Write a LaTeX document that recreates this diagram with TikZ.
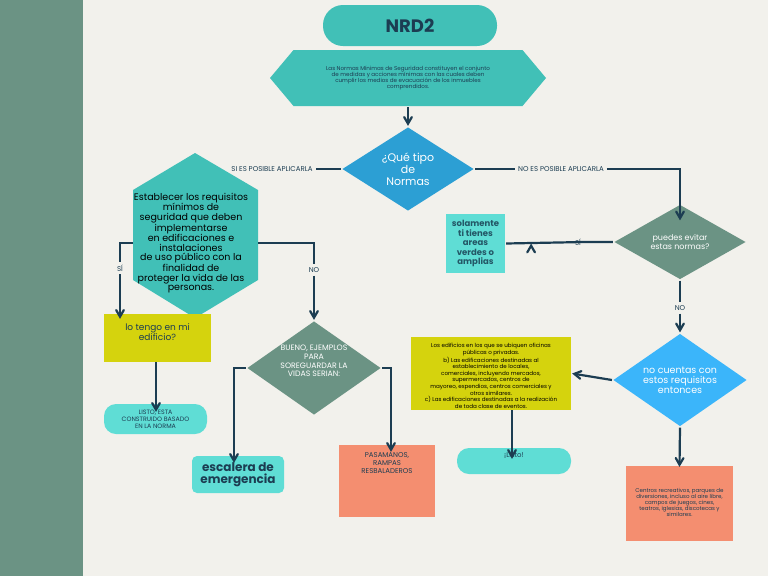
\documentclass[tikz,border=0pt]{standalone}
\usepackage{fontspec}
\setmainfont{Poppins}
\usetikzlibrary{shapes.geometric,shapes.symbols,arrows}
\definecolor{ink}{HTML}{1C3D52}
\definecolor{teal}{HTML}{41C0B7}
\definecolor{aqua}{HTML}{5FDDD5}
\definecolor{sage}{HTML}{6B9384}
\definecolor{sky}{HTML}{2C9FD4}
\definecolor{azure}{HTML}{3BB5FA}
\definecolor{mustard}{HTML}{D5D30D}
\definecolor{salmon}{HTML}{F48E70}
\definecolor{paper}{HTML}{F2F1EC}
\newcommand{\fs}[2]{\fontsize{#1}{#2}\selectfont}
\begin{document}
\begin{tikzpicture}[x=1pt,y=-1pt,line width=2.2pt,>=angle 60,
  diam/.style={diamond,inner sep=0pt},
  box/.style={rectangle,inner sep=0pt,align=center},
  txt/.style={align=center,inner sep=1pt,text=ink},
  lbl/.style={fill=paper,inner sep=2pt,text=ink,font=\fs{7}{8}}]
\useasboundingbox (0,0) rectangle (768,576);
\fill[paper] (0,0) rectangle (768,576);
\fill[sage] (0,0) rectangle (83,576);

\node [box,rounded corners=20pt,fill=teal,minimum width=174pt,minimum height=41pt,text=ink,font=\bfseries\fs{18}{20}] (title) at (410,25.5) {NRD2};
\node [signal,signal to=west and east,signal pointer angle=100,fill=teal,minimum width=276pt,minimum height=56pt,inner sep=0pt,text=ink,font=\fs{5.6}{6.2},align=center] (intro) at (408,78) {Las Normas Mínimas de Seguridad constituyen el conjunto\\de medidas y acciones mínimas con las cuales deben\\cumplir los medios de evacuación de los inmuebles\\comprendidos.};

\node [diam,fill=sky,minimum width=132pt,minimum height=84pt] (tipo) at (408,169) {};
\node [txt,text=white,font=\fs{11}{12}] at (tipo) {¿Qué tipo\\de\\Normas};

\fill[teal] (195,153) -- (258,190) -- (258,280) -- (195,318) -- (133,280) -- (133,190) -- cycle;
\node [box,minimum width=125pt,minimum height=165pt] (req) at (195,235) {};
\node [txt,text=black,font=\fs{9.5}{9.5}] at (191,243) {Establecer los requisitos\\mínimos de\\seguridad que deben\\implementarse\\en edificaciones e\\instalaciones\\de uso público con la\\finalidad de\\proteger la vida de las\\personas.};
\node [lbl] (si1) at (272,169) {SI ES POSIBLE APLICARLA};
\node [lbl] (no1) at (561,169) {NO ES POSIBLE APLICARLA};

\node [diam,fill=sage,minimum width=132pt,minimum height=75pt] (evitar) at (680,242) {};
\node [txt,text=white,font=\fs{8}{8.5}] at (evitar) {puedes evitar\\estas normas?};
\node [box,fill=aqua,minimum width=59pt,minimum height=59pt,text=ink!80!teal,font=\bfseries\fs{8.5}{9.5}] (verdes) at (475.5,243.5) {solamente\\ti tienes\\areas\\verdes o\\amplias};
\node [lbl] (si2) at (578,242) {SÍ};
\node [lbl] (no2) at (680,308) {NO};

\node [diam,fill=azure,minimum width=134pt,minimum height=93pt] (cuentas) at (680,380) {};
\node [txt,text=white,font=\fs{9.5}{10}] at (cuentas) {no cuentas con\\estos requisitos\\entonces};
\node [box,fill=mustard,minimum width=160pt,minimum height=73pt] (edif) at (491,373.5) {};
\node [txt,text=black,font=\fs{5.6}{6.6}] at (491,376) {Los edificios en los que se ubiquen oficinas\\públicas o privadas.\\b) Las edificaciones destinadas al\\establecimiento de locales,\\comerciales, incluyendo mercados,\\supermercados, centros de\\mayoreo, expendios, centros comerciales y\\otros similares.\\c) Las edificaciones destinadas a la realización\\de toda clase de eventos.};
\node [box,rounded corners=12pt,fill=aqua,minimum width=114pt,minimum height=26pt] (listo) at (514,461) {};
\node [txt,font=\fs{7}{8}] at (514,455) {¡Listo!};
\node [box,fill=salmon,minimum width=107pt,minimum height=75pt] (recreo) at (679.5,503.5) {};
\node [txt,font=\fs{5.5}{6}] at (679.5,502) {Centros recreativos, parques de\\diversiones, incluso al aire libre,\\campos de juegos, cines,\\teatros, iglesias, discotecas y\\similares.};

\node [lbl] (si3) at (120,268) {SÍ};
\node [box,fill=mustard,minimum width=107pt,minimum height=48pt] (tengo) at (157.5,338) {};
\node [txt,font=\fs{9}{9.5}] at (157.5,332) {lo tengo en mi\\edificio?};
\node [box,rounded corners=12pt,fill=aqua,minimum width=103pt,minimum height=30pt,text=ink,font=\fs{6.3}{6.8}] (norma) at (155.5,419) {LISTO, ESTA\\CONSTRUIDO BASADO\\EN LA NORMA};

\node [lbl] (no3) at (314,270) {NO};
\node [diam,fill=sage,minimum width=134pt,minimum height=94pt] (bueno) at (314,368) {};
\node [txt,text=white,font=\fs{7.8}{8.8}] at (314,361) {BUENO, EJEMPLOS\\PARA\\SOREGUARDAR LA\\VIDAS SERIAN:};
\node [box,rounded corners=5pt,fill=aqua,minimum width=92pt,minimum height=37pt,text=ink,font=\bfseries\fs{12}{12}] (escalera) at (238,474.5) {escalera de\\emergencia};
\node [box,fill=salmon,minimum width=96pt,minimum height=72pt] (pasa) at (387,481) {};
\node [txt,font=\fs{7}{8}] at (387,463) {PASAMANOS,\\RAMPAS\\RESBALADEROS};

\begin{scope}[draw=ink]
\draw [->] (intro.south) -- (tipo.north);
\draw (tipo.west) -- (si1.east);
\draw (tipo.east) -- (no1.west);
\draw [->] (no1.east) -| ([yshift=-17pt]evitar.north);
\draw [->] (evitar.west) -- (si2.east) -- (verdes.east) ++(25pt,0);
\draw (evitar.south) -- (no2.north);
\draw [->] (no2.south) -- (cuentas.north);
\draw [->] (cuentas.west) -- (edif.east);
\draw [->] (512,410) coordinate (e1) -- ([yshift=-12pt]listo.north -| e1);
\draw [->] (cuentas.south) -- ([yshift=-2pt]recreo.north);
\draw (133,243) coordinate (h1) -| (si3.north);
\draw [->] (si3.south) -- ([yshift=-6pt]tengo.north -| si3);
\draw [->] (156,362) coordinate (t1) -- ([yshift=-9pt]norma.north -| t1);
\draw (258,243) coordinate (h2) -| (no3.north);
\draw [->] (no3.south) -- (bueno.north);
\draw [->] (bueno.west) -| ([yshift=-8pt]escalera.north -| 234,0);
\draw [->] (bueno.east) -| ([yshift=-8pt]pasa.north -| 391,0);
\end{scope}
\end{tikzpicture}
\end{document}
